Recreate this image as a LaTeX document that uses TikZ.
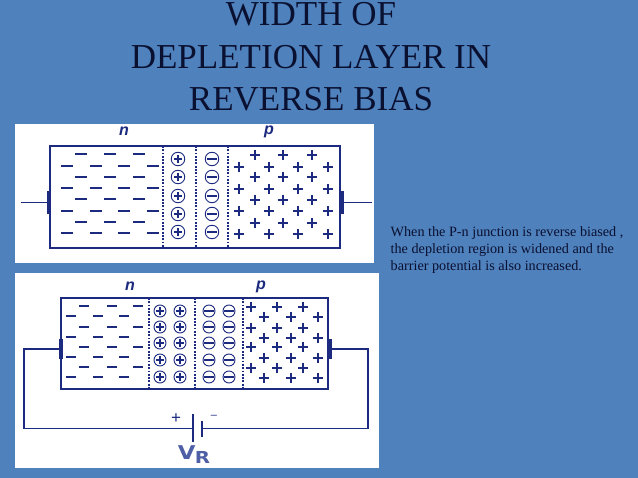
\documentclass[tikz,border=0pt]{standalone}
\usepackage{fontspec}
\setmainfont{Liberation Serif}
\newfontfamily\sansf{Liberation Sans}
\newfontfamily\widef{DejaVu Sans}
\definecolor{slidebg}{HTML}{4F81BD}
\definecolor{navy}{HTML}{1C2A80}
\definecolor{vrblue}{HTML}{4F5FA5}
\definecolor{ink}{HTML}{0A1030}
\tikzset{
  panel/.style={fill=white,draw=none},
  crystal/.style={draw=navy,line width=1.6pt},
  junction/.style={draw=navy,line width=1.2pt,dash pattern=on 1.8pt off 1.5pt},
  wire/.style={draw=navy,line width=1.9pt},
  contact/.style={fill=navy,draw=none,inner sep=0pt},
  titletext/.style={font=\fontsize{35}{42.5}\selectfont,align=center,text=ink},
  plate/.style={draw=navy,line width=1.8pt},
  ion/.style={draw=navy,line width=.9pt,circle,minimum size=#1,inner sep=0pt},
  chargename/.style={font=\itshape\bfseries\sansf\fontsize{16}{16}\selectfont,text=navy},
  pics/minus/.style={code={\draw[navy,line width=1.5pt] (-5.8,0)--(5.8,0);}},
  pics/plus/.style={code={\draw[navy,line width=1.8pt] (-5.2,0)--(5.2,0) (0,-5.2)--(0,5.2);}},
  pics/lminus/.style={code={\draw[navy,line width=1.5pt] (-4.8,0)--(4.8,0);}},
  pics/lplus/.style={code={\draw[navy,line width=1.7pt] (-4.8,0)--(4.8,0) (0,-4.8)--(0,4.8);}},
  pics/splus/.style={code={\draw[navy,line width=1.4pt] (-4.2,0)--(4.2,0) (0,-4.2)--(0,4.2);}},
  pics/sminus/.style={code={\draw[navy,line width=1.3pt] (-4.6,0)--(4.6,0);}},
}
\begin{document}
\begin{tikzpicture}[x=1pt,y=-1pt]
\path[use as bounding box,fill=slidebg] (0,0) rectangle (638,478);
\node[titletext,inner sep=0pt] (title) at (311,57) {WIDTH OF\\DEPLETION LAYER IN\\REVERSE BIAS};
\node[anchor=north west,inner sep=0pt,align=left,text=ink,font=\fontsize{14.2}{17.2}\selectfont] (note) at (390.5,226.5)
  {When the P-n junction is reverse biased ,\\the depletion region is widened and the\\barrier potential is also increased.};
% ---------- upper panel
\fill[panel] (15,124.5) rectangle (374,263);
\draw[crystal] (50,146) rectangle (340,248);
\foreach \x in {163,196,228} \draw[junction] (\x,146)--(\x,248);
\node[chargename] (n1) at (124,131) {n};
\node[chargename] (p1) at (269,132) {p};
\foreach \y in {159,177,196,214,232}{
  \node[ion=13.5pt] at (178,\y) {};
  \pic at (178,\y) {splus};
  \node[ion=13.5pt] at (212,\y) {};
  \pic at (212,\y) {sminus};
}
\foreach \y in {154,177,199,222} \foreach \x in {81,110,139} \pic at (\x,\y) {minus};
\foreach \y in {166,188,211,233} \foreach \x in {67,96,124,153} \pic at (\x,\y) {minus};
\foreach \y in {155,177,200,223} \foreach \x in {255,283,312} \pic at (\x,\y) {plus};
\foreach \y in {167,189,211,234} \foreach \x in {239,269,298,328} \pic at (\x,\y) {plus};
\node[contact,minimum width=4.5pt,minimum height=23pt] (la) at (49,202.5) {};
\node[contact,minimum width=4.5pt,minimum height=23pt] (ra) at (342,202.5) {};
\coordinate (lend) at (21,202.5);
\coordinate (rend) at (372,202.5);
\draw[wire] (lend)--(la);
\draw[wire] (ra)--(rend);
% ---------- lower panel
\fill[panel] (15,273) rectangle (379,468);
\draw[crystal] (61,298) rectangle (328,389);
\foreach \x in {149,195,243} \draw[junction] (\x,298)--(\x,389);
\node[chargename] (n2) at (130,286) {n};
\node[chargename] (p2) at (261,287) {p};
\foreach \y in {311,327,343,360,377}{
  \foreach \x in {160,180}{\node[ion=12pt] at (\x,\y) {}; \pic at (\x,\y) {splus};}
  \foreach \x in {209,229}{\node[ion=12pt] at (\x,\y) {}; \pic at (\x,\y) {sminus};}
}
\foreach \y in {306,327,347,367} \foreach \x in {84,112,138} \pic at (\x,\y) {lminus};
\foreach \y in {316,337,357,377} \foreach \x in {71,98,124} \pic at (\x,\y) {lminus};
\foreach \y in {307,328,347,368} \foreach \x in {251,277,303} \pic at (\x,\y) {lplus};
\foreach \y in {317,338,358,378} \foreach \x in {264,291,318} \pic at (\x,\y) {lplus};
\node[contact,minimum width=3.5pt,minimum height=20pt] (lb) at (61,349) {};
\node[contact,minimum width=3.5pt,minimum height=20pt] (rb) at (330,349) {};
\coordinate (bl) at (193,428.5);
\coordinate (br) at (202,428.5);
\draw[wire] (lb)--(24,349)--(24,428.5)--(bl);
\draw[wire] (rb)--(368,349)--(368,428.5)--(br);
\draw[plate] (193,414)--(193,442);
\draw[plate,line width=2.6pt] (202,421)--(202,437);
\node[font=\sansf\fontsize{17}{17}\selectfont,text=navy,inner sep=0pt] (bp) at (176,419) {+};
\node[font=\sansf\fontsize{11}{11}\selectfont,text=navy,inner sep=0pt] (bm) at (214,417) {–};
\node[font=\widef\bfseries\fontsize{19}{19}\selectfont,text=vrblue,inner sep=0pt,xscale=1.2,transform shape] (vr) at (194,455) {V\kern-.5pt\raisebox{-4pt}{\fontsize{16.5}{16.5}\selectfont R}};
\end{tikzpicture}
\end{document}
